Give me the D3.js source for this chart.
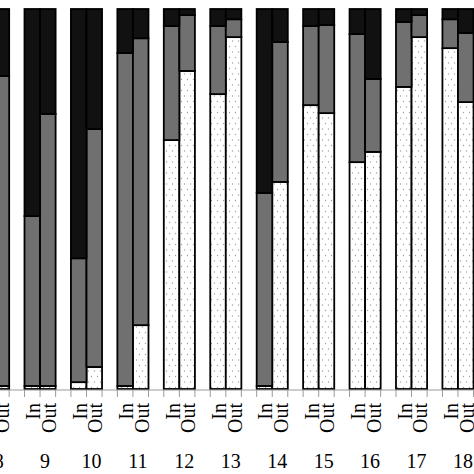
<!DOCTYPE html>
<html>
<head>
<meta charset="utf-8">
<script src="https://cdn.jsdelivr.net/npm/d3@7"></script>
<style>
  html, body { margin: 0; padding: 0; background: #fff; }
  svg { display: block; }
</style>
</head>
<body>
<svg id="chart" width="474" height="474"></svg>
<script>
// ---- data (percent of each bar, bottom to top: dotted, gray, black) ----
const groups    = ["8", "9", "10", "11", "12", "13", "14", "15", "16", "17", "18"];
const subLabels = ["In", "Out"];
const inDotted  = [0.8, 0.8, 1.8, 0.8, 65.5, 77.6, 0.8, 74.7, 59.7, 79.5, 89.7];
const inGray    = [75.0, 44.7, 32.6, 87.6, 30.0, 17.9, 50.8, 20.8, 33.7, 17.1, 7.6];
const inBlack   = [24.2, 54.5, 65.6, 11.6, 4.5, 4.5, 48.4, 4.5, 6.6, 3.4, 2.7];
const outDotted = [0.8, 0.8, 5.8, 16.8, 83.7, 92.6, 54.5, 72.6, 62.4, 92.6, 75.5];
const outGray   = [81.6, 71.6, 62.6, 75.5, 14.7, 4.7, 36.8, 23.2, 19.2, 5.8, 18.2];
const outBlack  = [17.6, 27.6, 31.6, 7.7, 1.6, 2.7, 8.7, 4.2, 18.4, 1.6, 6.3];

const segKeys = ["dotted", "gray", "black"];

const rows = [];
groups.forEach((g, i) => {
  rows.push({ group: g, sub: "In",  dotted: inDotted[i],  gray: inGray[i],  black: inBlack[i] });
  rows.push({ group: g, sub: "Out", dotted: outDotted[i], gray: outGray[i], black: outBlack[i] });
});

const svg = d3.select("#chart");

// pattern for dotted segments
const defs = svg.append("defs");
const pat = defs.append("pattern")
  .attr("id", "dots").attr("patternUnits", "userSpaceOnUse")
  .attr("width", 6).attr("height", 11);
pat.append("rect").attr("width", 6).attr("height", 11).attr("fill", "#ffffff");
pat.append("circle").attr("cx", 1.5).attr("cy", 2.5).attr("r", 0.7).attr("fill", "#a0a0a0");
pat.append("circle").attr("cx", 4.5).attr("cy", 8).attr("r", 0.7).attr("fill", "#a0a0a0");

const fills = { dotted: "url(#dots)", gray: "#707070", black: "#111111" };

// scales
const x0 = d3.scaleBand().domain(groups).range([-29.6, 481.2]).paddingInner(0.33).paddingOuter(0.165);
const x1 = d3.scaleBand().domain(subLabels).range([0, x0.bandwidth()]);
const y  = d3.scaleLinear().domain([0, 100]).range([389, 9]);

const stack = d3.stack().keys(segKeys);
const series = stack(rows);

// bars
const barG = svg.append("g");
series.forEach(s => {
  barG.selectAll(null).data(s).enter().append("rect")
    .attr("x", d => x0(d.data.group) + x1(d.data.sub))
    .attr("width", x1.bandwidth())
    .attr("y", d => y(d[1]))
    .attr("height", d => Math.max(0, y(d[0]) - y(d[1])))
    .attr("fill", fills[s.key])
    .attr("stroke", "#000")
    .attr("stroke-width", 1.8);
});

// axis line
const axisY = 390;
svg.append("line")
  .attr("x1", 0).attr("x2", 474).attr("y1", axisY).attr("y2", axisY)
  .attr("stroke", "#9a9a9a").attr("stroke-width", 1);

// ticks at bar edges
const tickXs = [];
groups.forEach(g => {
  tickXs.push(x0(g));
  tickXs.push(x0(g) + x1("Out"));
  tickXs.push(x0(g) + x0.bandwidth());
});
svg.append("g").selectAll("line").data(tickXs).enter().append("line")
  .attr("x1", d => d).attr("x2", d => d)
  .attr("y1", axisY).attr("y2", axisY + 7)
  .attr("stroke", "#9a9a9a").attr("stroke-width", 1);

// sub labels (rotated)
svg.append("g").selectAll("text").data(rows).enter().append("text")
  .attr("transform", d => `translate(${x0(d.group) + x1(d.sub) + x1.bandwidth() / 2 + 1},403) rotate(-90)`)
  .attr("text-anchor", "end")
  .attr("dy", "0.35em")
  .attr("font-family", "'Liberation Serif', 'Times New Roman', serif")
  .attr("font-size", 20)
  .attr("fill", "#000")
  .text(d => d.sub);

// group labels
svg.append("g").selectAll("text").data(groups).enter().append("text")
  .attr("x", g => x0(g) + x0.bandwidth() / 2 + 5)
  .attr("y", 468)
  .attr("text-anchor", "middle")
  .attr("font-family", "'Liberation Serif', 'Times New Roman', serif")
  .attr("font-size", 20)
  .attr("fill", "#000")
  .text(g => g);
</script>
</body>
</html>
